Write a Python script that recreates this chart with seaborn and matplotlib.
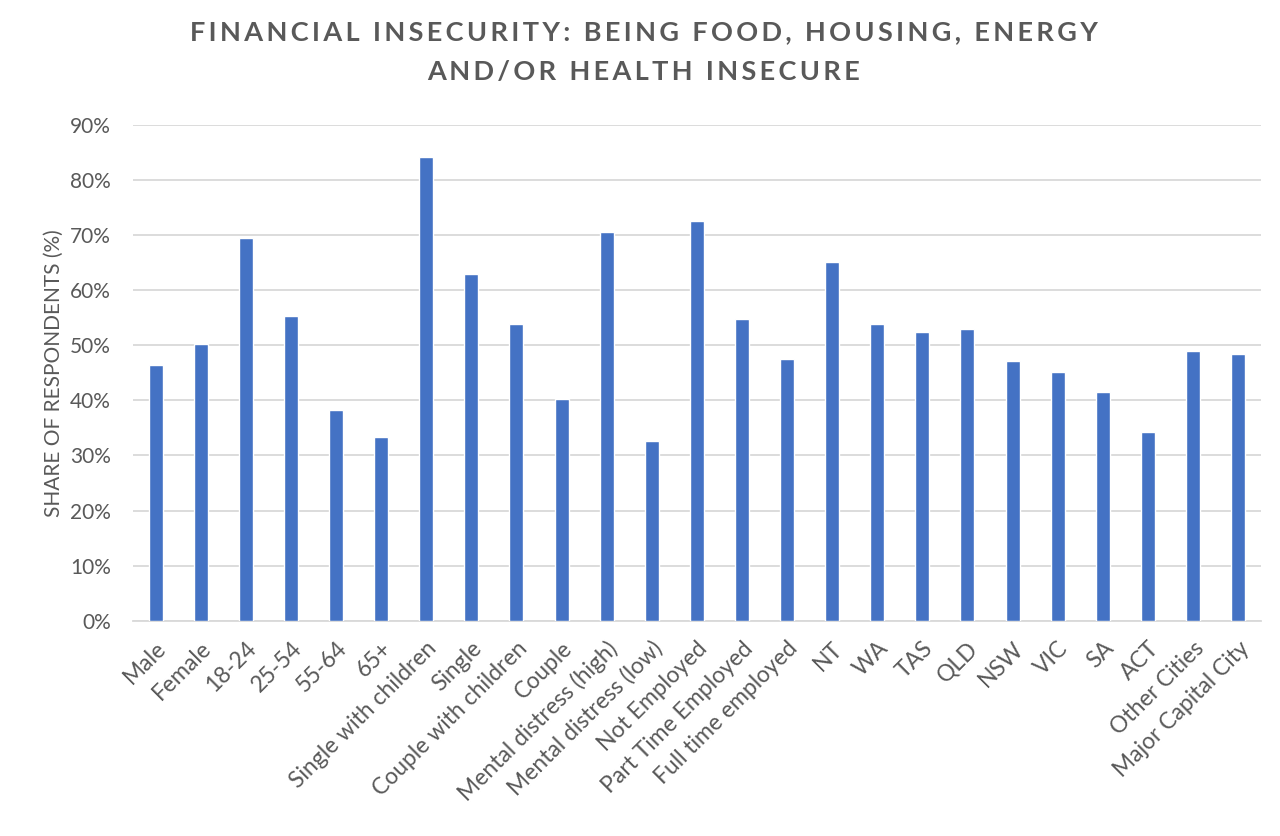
import pandas as pd
import matplotlib.pyplot as plt
import matplotlib.transforms as mtrans
import seaborn as sns
from matplotlib.ticker import PercentFormatter

categories = [
    "Male", "Female", "18-24", "25-54", "55-64", "65+",
    "Single with children", "Single", "Couple with children", "Couple",
    "Mental distress (high)", "Mental distress (low)",
    "Not Employed", "Part Time Employed", "Full time employed",
    "NT", "WA", "TAS", "QLD", "NSW", "VIC", "SA", "ACT",
    "Other Cities", "Major Capital City",
]
share = [
    46.5, 50.3, 69.4, 55.4, 38.3, 33.4,
    84.2, 63.0, 53.8, 40.3,
    70.6, 32.7,
    72.6, 54.7, 47.6,
    65.2, 53.8, 52.5, 52.9, 47.2, 45.1, 41.6, 34.2,
    48.9, 48.5,
]
title_lines = ["FINANCIAL INSECURITY: BEING FOOD, HOUSING, ENERGY",
               "AND/OR HEALTH INSECURE"]

df = pd.DataFrame({"group": categories, "share": share})

sns.set_style("white")
plt.rcParams["font.family"] = ["Lato", "DejaVu Sans"]
grey = "#595959"

fig = plt.figure(figsize=(12.8, 8.36), dpi=100)
ax = fig.add_axes([0.1039, 0.2575, 0.881, 0.593])

sns.barplot(data=df, x="group", y="share", color="#4472C4", width=0.31,
            saturation=1, ax=ax, zorder=3)

ax.set_ylim(0, 90)
ax.set_yticks(range(0, 91, 10))
ax.yaxis.set_major_formatter(PercentFormatter(decimals=0))
ax.set_xlim(-0.5, len(categories) - 0.5)
ax.grid(axis="y", color="#d9d9d9", linewidth=1.3, zorder=0)
ax.set_axisbelow(True)

for side in ["top", "right", "left"]:
    ax.spines[side].set_visible(False)
ax.spines["bottom"].set_color("#d9d9d9")
ax.spines["bottom"].set_linewidth(1.3)
ax.tick_params(axis="both", length=0, colors=grey)
ax.tick_params(axis="y", pad=16, labelsize=15)
ax.tick_params(axis="x", labelsize=16.5)

# excel-style rotated labels, pushed a little below the axis
shift = mtrans.ScaledTranslation(0, -12 / 100, fig.dpi_scale_trans)
for lab in ax.get_xticklabels():
    lab.set_rotation(45)
    lab.set_ha("right")
    lab.set_rotation_mode("anchor")
    lab.set_transform(lab.get_transform() + shift)

ax.set_xlabel("")
ax.set_ylabel("SHARE OF RESPONDENTS (%)", color=grey, fontsize=15, labelpad=4)

# letter-spaced title, one text per line
for ypos, line in zip([0.9617, 0.9139], title_lines):
    fig.text(0.503, ypos, "\u2009".join(line), ha="center", va="center",
             fontsize=19.5, fontweight="bold", color=grey)

fig.savefig("out.png", dpi=100)
